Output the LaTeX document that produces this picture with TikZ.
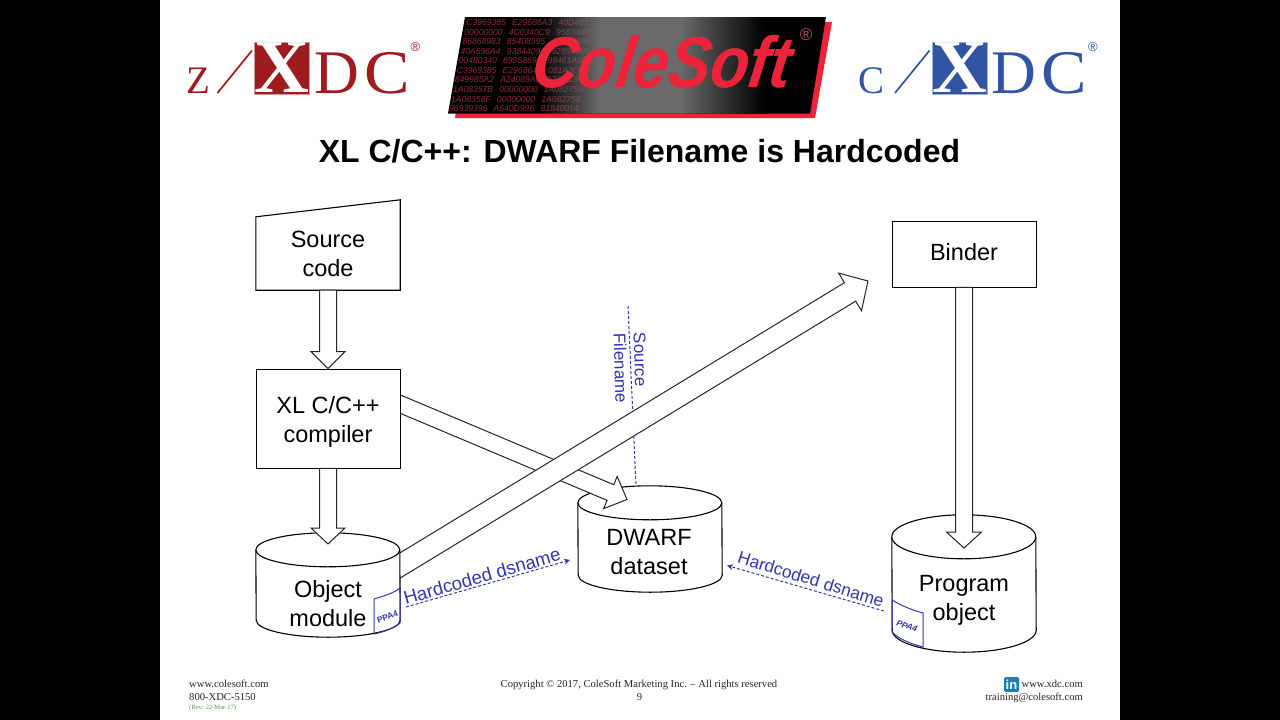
\documentclass[tikz,border=0pt]{standalone}
\usepackage{fontspec}
\usepackage{graphicx}
\usepackage[outline]{contour}
\setmainfont{Liberation Sans}
\newfontfamily\serif{Liberation Serif}
\newfontfamily\hexfont[WordSpace=2.6]{Liberation Sans}
\usetikzlibrary{calc}
\usetikzlibrary{arrows.meta}
\usetikzlibrary{fadings}
\pgfdeclarelayer{page}
\pgfdeclarelayer{back}
\pgfsetlayers{page,back,main}
\definecolor{xdcred}{HTML}{9E1B20}
\definecolor{xdcblue}{HTML}{2F55A4}
\definecolor{csred}{HTML}{EE2238}
\definecolor{cshex}{HTML}{8E2A36}
\definecolor{csgray}{HTML}{6A6A6A}
\definecolor{note}{HTML}{3535AE}
\definecolor{linked}{HTML}{1A7FB5}
\tikzfading[name=fadehex, left color=transparent!100, right color=transparent!0]

\def\tailout{0pt}
% tail, tip, half shaft, half head, head length
\newcommand\blockarrow[5]{
    \coordinate (tl) at ($#1!-\tailout!#2$);
    \coordinate (nk) at ($#2!#5!#1$);
    \draw[block] ($(tl)!#3!90:(nk)$) -- ($(nk)!#3!-90:(tl)$) -- ($(nk)!#4!-90:(tl)$) -- #2
    -- ($(nk)!#4!90:(tl)$) -- ($(nk)!#3!90:(tl)$) -- ($(tl)!#3!-90:(nk)$) -- cycle;
}

% node, height of the cap
\newcommand\drumshape[2]{
    \draw[outline, fill=white] ($(#1.north west)+(0,#2)$) arc[start angle=180, end angle=0, x radius=72pt, y radius=#2 pt]
    -- ($(#1.south east)+(0,-#2)$) arc[start angle=0, end angle=-180, x radius=72pt, y radius=#2 pt] -- cycle;
    \draw[outline] ($(#1.north west)+(0,#2)$) arc[start angle=180, end angle=360, x radius=72pt, y radius=#2 pt];
}

% name, shift, colour, first letter, its centre
\newcommand\xdclogo[5]{
    \begin{scope}[shift={(#2,0)},color=#3]
    \node[logotext,font=\serif\fontsize{39}{39}\selectfont] (#1first) at (#5,93) {#4};
    \draw[line width=1.7pt] (217.5,93) -- (252,50.5);
    \node[fill=#3,draw=#3!45,minimum width=54pt,minimum height=52pt,inner sep=0pt,text=white] (#1box) at (282,68)
    {\serif\bfseries\fontsize{76}{76}\selectfont X};
    \node[logotext,font=\serif\fontsize{62}{62}\selectfont] (#1d) at (336.5,93) {D};
    \node[logotext,font=\serif\fontsize{62}{62}\selectfont] (#1c) at (387,93) {\scalebox{1.1}[1]{C}};
    \node[font=\fontsize{13}{13}\selectfont] (#1reg) at (415.5,47) {®};
    \end{scope}
}

\begin{document}
\begin{tikzpicture}[x=1pt, y=-1pt,
outline/.style={draw=black, line width=1.1pt},
label text/.style={font=\fontsize{23.5}{29}\selectfont, align=center},
boxnode/.style={draw=black, line width=0.8pt, fill=white, minimum width=144pt, inner sep=0pt},
drum/.style={minimum width=144pt, inner sep=0pt},
block/.style={draw=black!85, fill=white, line width=1pt, line join=miter},
dashline/.style={note, densely dashed, line width=1pt},
dasharrow/.style={dashline, -{Stealth[length=6pt,width=6pt]}},
notetext/.style={note, font=\fontsize{#1}{20}\selectfont},
tag/.style={note, line width=1pt},
tagtext/.style={note, font=\bfseries\fontsize{8.5}{9}\selectfont, inner sep=0pt},
logotext/.style={anchor=base, inner sep=0pt},
foot/.style={font=\serif\fontsize{10.6}{13}\selectfont, inner sep=0pt, text=black!85}]

\useasboundingbox (0,0) rectangle (1280,720);
\begin{pgfonlayer}{page}
\fill[black] (0,0) rectangle (1280,720);
\fill[white] (160,0) rectangle (1120,720);
\end{pgfonlayer}

% LOGOS
\xdclogo{z}{0}{xdcred}{Z}{198.5}
\xdclogo{c}{677.5}{xdcblue}{C}{193.5}

\fill[csred] (471,22) -- (832,22) -- (815,118) -- (455,118) -- cycle;
\begin{scope}
\clip (465,17) -- (826,17) -- (810,113.5) -- (448,113.5) -- cycle;
\fill[black] (440,10) rectangle (840,120);
\foreach \hexline [count=\n] in {C3969385 E29686A3 40D48185,00000000 4C0340C9 95834885,
    86868983 85408995 A3859985,40A696A4 93844093 92894085,00480340 89958693 99461A08,
    C3969385 E2968640 081A3C00,849985A2 A24089A0 07C3C9C5,1A08357B 00000000 1A082758,
    1A08358F 00000000 1A082758,96939396 A640D996 81840014}{
    \node[cshex, anchor=base west, inner sep=0pt, font=\hexfont\itshape\fontsize{8.6}{9}\selectfont]
    (hex\n) at ({468-1.9*\n},{25.5+9.58*(\n-1)}) {\hexline};
}
\fill[csgray, path fading=fadehex] (540,10) rectangle (600,120);
\shade[left color=csgray, right color=black] (680,10) rectangle (765,120);
\fill[csgray] (599.5,10) rectangle (680.5,120);
\end{scope}
\contourlength{0.8pt}
\node[csred, xslant=0.14, font=\bfseries\itshape\fontsize{72}{72}\selectfont, inner sep=0pt] (colesoft) at (663,62)
{\scalebox{0.87}[1]{\contour{black!60}{\textcolor{csred}{ColeSoft}}}};
\node[font=\itshape\fontsize{17}{17}\selectfont, text=csred!45!gray, inner sep=0pt] (colereg) at (806,35) {®};

% TITLE
\node[font=\bfseries\fontsize{32}{32}\selectfont] (title) at (639.5,151) {XL C/C++: DWARF Filename is Hardcoded};

% BOXES
\node[minimum width=144pt, minimum height=73pt, inner sep=0pt] (source) at (328,253.5) {};
\draw[outline, fill=white] (source.north west) -- ($(source.north east)+(0,-17)$) -- (source.south east) -- (source.south west) -- cycle;
\node[label text] (sourcetext) at (source.center) {Source\\code};
\node[boxnode, minimum height=99pt] (compiler) at (328,418.5) {};
\node[label text] (compilertext) at (328,422) {XL C/C++\\compiler};
\node[boxnode, minimum height=66pt] (binder) at (964,254) {};
\node[label text] (bindertext) at (964,252) {Binder};

% CYLINDERS
\node[drum, minimum height=104pt] (object) at (328,585) {};
\drumshape{object}{17}
\node[label text] (objecttext) at (328,604) {Object\\module};
\node[drum, minimum height=137pt] (program) at (964,583.5) {};
\drumshape{program}{22}
\node[label text] (programtext) at (964,600.5) {Program\\object};

% PPA4 TAGS
\draw[tag] (374,599) .. controls (384,596) and (394,593) .. (400,588) -- (400,623)
.. controls (394,628) and (384,632) .. (374,634) -- cycle;
\node[tagtext, rotate=20] (objecttag) at (387.5,617) {PPA4};
\draw[tag] (892,600) .. controls (902,606) and (912,610) .. (923,613) -- (923,647)
.. controls (912,644) and (900,640) .. (892,632) -- cycle;
\node[tagtext, rotate=-20, font=\bfseries\itshape\fontsize{8.5}{9}\selectfont] (programtag) at (907,626) {PPA4};

% behind the boxes
\begin{pgfonlayer}{back}
\def\tailout{20pt}
\node[drum, minimum height=106pt] (dwarf) at (650,539) {};
\drumshape{dwarf}{17}
\node[label text] (dwarftext) at (649,552) {DWARF\\dataset};
\coordinate (filetop) at (628,306);
\draw[dashline] (filetop) -- ($(dwarf.north)+(-14,0)$);
\node[notetext=17, align=left, rotate=-88.5, inner sep=0pt] (filename) at (630.5,368) {Source\\Filename};
\coordinate (comptail) at (400,404);
\coordinate (comptip) at (627,499.5);
\blockarrow{(comptail)}{(comptip)}{8.5pt}{17.5pt}{18pt}
\coordinate (objtail) at (400,565.5);
\coordinate (bindtip) at (868,281);
\blockarrow{(objtail)}{(bindtip)}{10.8pt}{22pt}{21pt}
\end{pgfonlayer}

% BLOCK ARROWS
\blockarrow{(source.south)}{(compiler.north)}{8.5pt}{17pt}{17pt}
\coordinate (objtip) at (328,544);
\blockarrow{(compiler.south)}{(objtip)}{8.5pt}{17pt}{16pt}
\coordinate (progtip) at (964,548);
\blockarrow{(binder.south)}{(progtip)}{8.5pt}{17.5pt}{16pt}

% HARDCODED
\coordinate (hardleft) at (406,607);
\coordinate (hardleftend) at (570,560);
\draw[dasharrow] (hardleft) -- (hardleftend);
\node[notetext=18.6, rotate=16, inner sep=0pt] (hardlefttext) at (482,576) {Hardcoded dsname};
\coordinate (hardright) at (884,611);
\coordinate (hardrightend) at (727,565.5);
\draw[dasharrow] (hardright) -- (hardrightend);
\node[notetext=17.4, rotate=-17.2, inner sep=0pt] (hardrighttext) at (811,579) {Hardcoded dsname};

% FOOTER
\node[foot, anchor=base west] (web) at (189,687.5) {www.colesoft.com};
\node[foot, anchor=base west] (phone) at (189,700) {800-XDC-5150};
\node[anchor=base west, inner sep=0pt, text=green!45!black!70, font=\serif\fontsize{6.5}{7}\selectfont] (rev) at (189,709) {(Rev: 22-Mar-17)};
\node[foot, anchor=base] (copyright) at (639,687) {Copyright © 2017, ColeSoft Marketing Inc. – All rights reserved};
\node[foot, anchor=base] (page) at (639.5,700) {9};
\node[foot, anchor=base east] (xdc) at (1083,687.5) {www.xdc.com};
\node[foot, anchor=base east] (mail) at (1083,700.5) {training@colesoft.com};
\node[fill=linked, rounded corners=1.5pt, minimum size=15pt, inner sep=0pt, text=white,
font=\bfseries\fontsize{13}{13}\selectfont] (linkedin) at (1011.5,684.5) {in};

\end{tikzpicture}
\end{document}
